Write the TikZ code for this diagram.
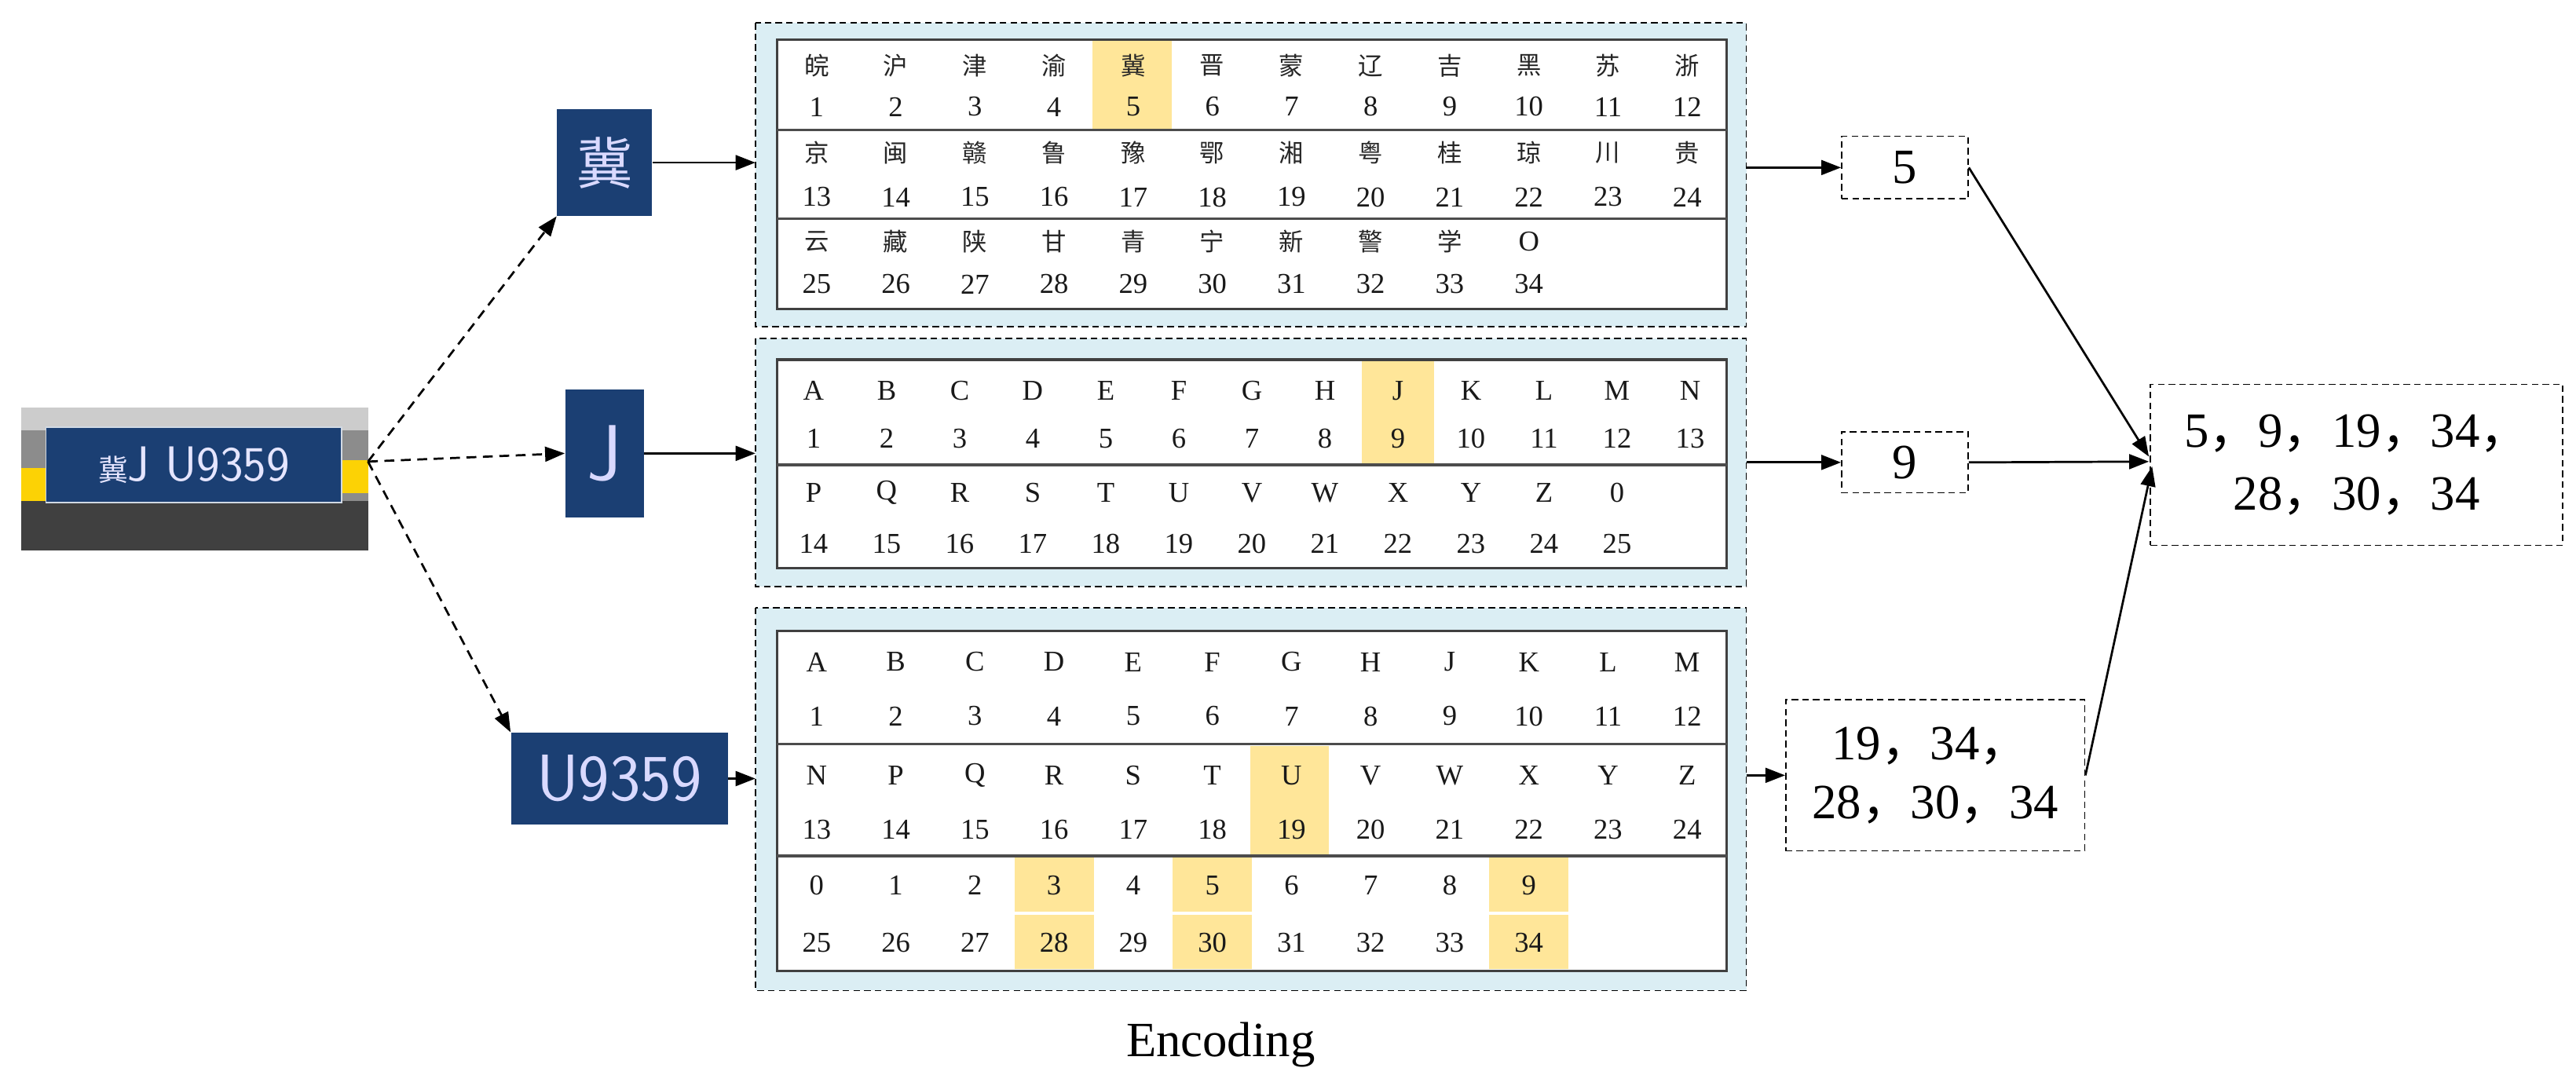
\documentclass[tikz,border=0pt]{standalone}
\usepackage{fontspec}
\setmainfont{Liberation Serif}
\newfontfamily\cjk{Noto Sans CJK SC}
\usetikzlibrary{arrows.meta}
\definecolor{panel}{HTML}{DBEEF4}
\definecolor{hl}{HTML}{FFE699}
\definecolor{plate}{HTML}{1B3F73}
\newcommand{\fc}{{\cjk ，}}
\begin{document}
\begin{tikzpicture}[x=1pt,y=-1pt,
  panelbox/.style={draw=black,dash pattern=on 4pt off 2.5pt,fill=panel,line width=0.8pt},
  tablebox/.style={draw=black!75,fill=white,line width=1.6pt},
  sep/.style={draw=black!70,line width=1.6pt},
  cell/.style={font=\fontsize{17.5}{17.5}\selectfont,inner sep=0pt,text=black!90},
  ccell/.style={font=\cjk\fontsize{15}{15}\selectfont,inner sep=0pt,text=black!85},
  resbox/.style={draw=black,dash pattern=on 4pt off 2.5pt,line width=0.8pt,inner sep=0pt},
  arr/.style={-{Triangle[length=12pt,width=9pt]},line width=1.3pt},
  darr/.style={-{Triangle[length=12pt,width=9pt]},line width=1.3pt,dash pattern=on 6pt off 4pt},
  crop/.style={fill=plate,draw=none}]
\useasboundingbox (0,0) rectangle (1568,661);
% ---------- main plate ----------
\fill[black!45] (13,248) rectangle (224,335);
\fill[black!20] (13,248) rectangle (224,262);
\fill[black!75] (13,305) rectangle (224,335);
\fill[yellow!70!orange] (13,285) rectangle (30,305);
\fill[yellow!70!orange] (205,280) rectangle (224,300);
\node[crop,draw=white!80!plate,line width=0.8pt,minimum width=180pt,minimum height=46pt,inner sep=0pt,
  text=white!90!blue,font=\fontsize{30}{30}\selectfont\sffamily] (plate) at (118,283)
  {{\cjk\fontsize{18}{18}\selectfont 冀}J U9359};
\coordinate (pr) at (224,281);
% ---------- crops ----------
\node[crop,minimum width=58pt,minimum height=65pt,inner sep=0pt,text=white!85!blue,
  font=\cjk\fontsize{34}{34}\selectfont] (c1) at (368,99) {冀};
\node[crop,minimum width=48pt,minimum height=78pt,inner sep=0pt,text=white!85!blue,
  font=\sffamily\fontsize{48}{48}\selectfont] (c2) at (368,276) {J};
\node[crop,minimum width=132pt,minimum height=56pt,inner sep=0pt,text=white!85!blue,
  font=\sffamily\fontsize{40}{40}\selectfont] (c3) at (377,474) {U9359};
\draw[darr] (pr) -- (c1.south west);
\draw[darr] (pr) -- (c2.west);
\draw[darr] (pr) -- (c3.north west);
% ---------- panel 1 ----------
\draw[panelbox] (460,14) rectangle (1063,199);
\node[inner sep=0pt,minimum width=603pt,minimum height=185pt] (p1) at (761.5,106.5) {};
\draw[tablebox] (473,24) rectangle (1051,188);
\fill[hl] (665,25) rectangle (713,79);
\draw[sep] (473,79) -- (1051,79);
\draw[sep] (473,133) -- (1051,133);
\foreach \t [count=\i] in {皖,沪,津,渝,冀,晋,蒙,辽,吉,黑,苏,浙}
  \node[ccell] at (473+48.17*\i-24.08,40) {\t};
\foreach \i in {1,...,12}
  \node[cell] at (473+48.17*\i-24.08,65) {\i};
\foreach \t [count=\i] in {京,闽,赣,鲁,豫,鄂,湘,粤,桂,琼,川,贵}
  \node[ccell] at (473+48.17*\i-24.08,93) {\t};
\foreach \i in {13,...,24}
  \node[cell] at (473+48.17*\i-48.17*12-24.08,120) {\i};
\foreach \t [count=\i] in {云,藏,陕,甘,青,宁,新,警,学}
  \node[ccell] at (473+48.17*\i-24.08,147) {\t};
\node[cell] at (473+48.17*10-24.08,147) {O};
\foreach \i in {25,...,34}
  \node[cell] at (473+48.17*\i-48.17*24-24.08,173) {\i};
% ---------- panel 2 ----------
\draw[panelbox] (460,206) rectangle (1063,357);
\node[inner sep=0pt,minimum width=603pt,minimum height=151pt] (p2) at (761.5,281.5) {};
\draw[tablebox] (473,219) rectangle (1051,346);
\fill[hl] (829,220) rectangle (873,283);
\draw[sep] (473,283) -- (1051,283);
\foreach \t [count=\i] in {A,B,C,D,E,F,G,H,J,K,L,M,N}
  \node[cell] at (473+44.46*\i-22.23,238) {\t};
\foreach \i in {1,...,13}
  \node[cell] at (473+44.46*\i-22.23,267) {\i};
\foreach \t [count=\i] in {P,Q,R,S,T,U,V,W,X,Y,Z,0}
  \node[cell] at (473+44.46*\i-22.23,300) {\t};
\foreach \i in {14,...,25}
  \node[cell] at (473+44.46*\i-44.46*13-22.23,331) {\i};
% ---------- panel 3 ----------
\draw[panelbox] (460,370) rectangle (1063,603);
\node[inner sep=0pt,minimum width=603pt,minimum height=233pt] (p3) at (761.5,486.5) {};
\draw[tablebox] (473,384) rectangle (1051,591);
\fill[hl] (761,454) rectangle (809,520);
\foreach \c in {4,6,10}{
  \fill[hl] (473+48.17*\c-48.17,522) rectangle (473+48.17*\c,555);
  \fill[hl] (473+48.17*\c-48.17,557) rectangle (473+48.17*\c,590);}
\draw[sep] (473,453) -- (1051,453);
\draw[sep] (473,521) -- (1051,521);
\foreach \t [count=\i] in {A,B,C,D,E,F,G,H,J,K,L,M}
  \node[cell] at (473+48.17*\i-24.08,403) {\t};
\foreach \i in {1,...,12}
  \node[cell] at (473+48.17*\i-24.08,436) {\i};
\foreach \t [count=\i] in {N,P,Q,R,S,T,U,V,W,X,Y,Z}
  \node[cell] at (473+48.17*\i-24.08,472) {\t};
\foreach \i in {13,...,24}
  \node[cell] at (473+48.17*\i-48.17*12-24.08,505) {\i};
\foreach \t [count=\i] in {0,1,2,3,4,5,6,7,8,9}
  \node[cell] at (473+48.17*\i-24.08,539) {\t};
\foreach \i in {25,...,34}
  \node[cell] at (473+48.17*\i-48.17*24-24.08,574) {\i};
% ---------- result boxes ----------
\node[resbox,minimum width=77pt,minimum height=38pt,font=\fontsize{30}{30}\selectfont] (r1) at (1159.5,102) {5};
\node[resbox,minimum width=77pt,minimum height=37pt,font=\fontsize{30}{30}\selectfont] (r2) at (1159.5,281.5) {9};
\node[resbox,minimum width=182pt,minimum height=92pt,font=\fontsize{30}{36}\selectfont,align=left] (r3) at (1178,472)
  {\hspace*{12pt}19\fc 34\fc\\28\fc 30\fc 34};
\node[resbox,minimum width=251pt,minimum height=98pt,font=\fontsize{30}{38}\selectfont,align=center] (fin) at (1434.5,283)
  {5\fc 9\fc 19\fc 34\fc\\28\fc 30\fc 34};
\coordinate (fin1) at (1308,278);
\coordinate (fin2) at (1308,281);
\coordinate (fin3) at (1310,284);
% ---------- arrows ----------
\draw[arr] (c1.east) -- (p1.west |- c1.east);
\draw[arr] (c2.east) -- (p2.west |- c2.east);
\draw[arr] (c3.east) -- (p3.west |- c3.east);
\draw[arr] (p1.east |- r1.west) -- (r1.west);
\draw[arr] (p2.east |- r2.west) -- (r2.west);
\draw[arr] (p3.east |- r3.west) -- (r3.west);
\draw[arr] (r1.east) -- (fin1);
\draw[arr] (r2.east) -- (fin2);
\draw[arr] (r3.east) -- (fin3);
% ---------- caption ----------
\node[font=\fontsize{30}{30}\selectfont] (cap) at (743,636) {Encoding};
\end{tikzpicture}
\end{document}
